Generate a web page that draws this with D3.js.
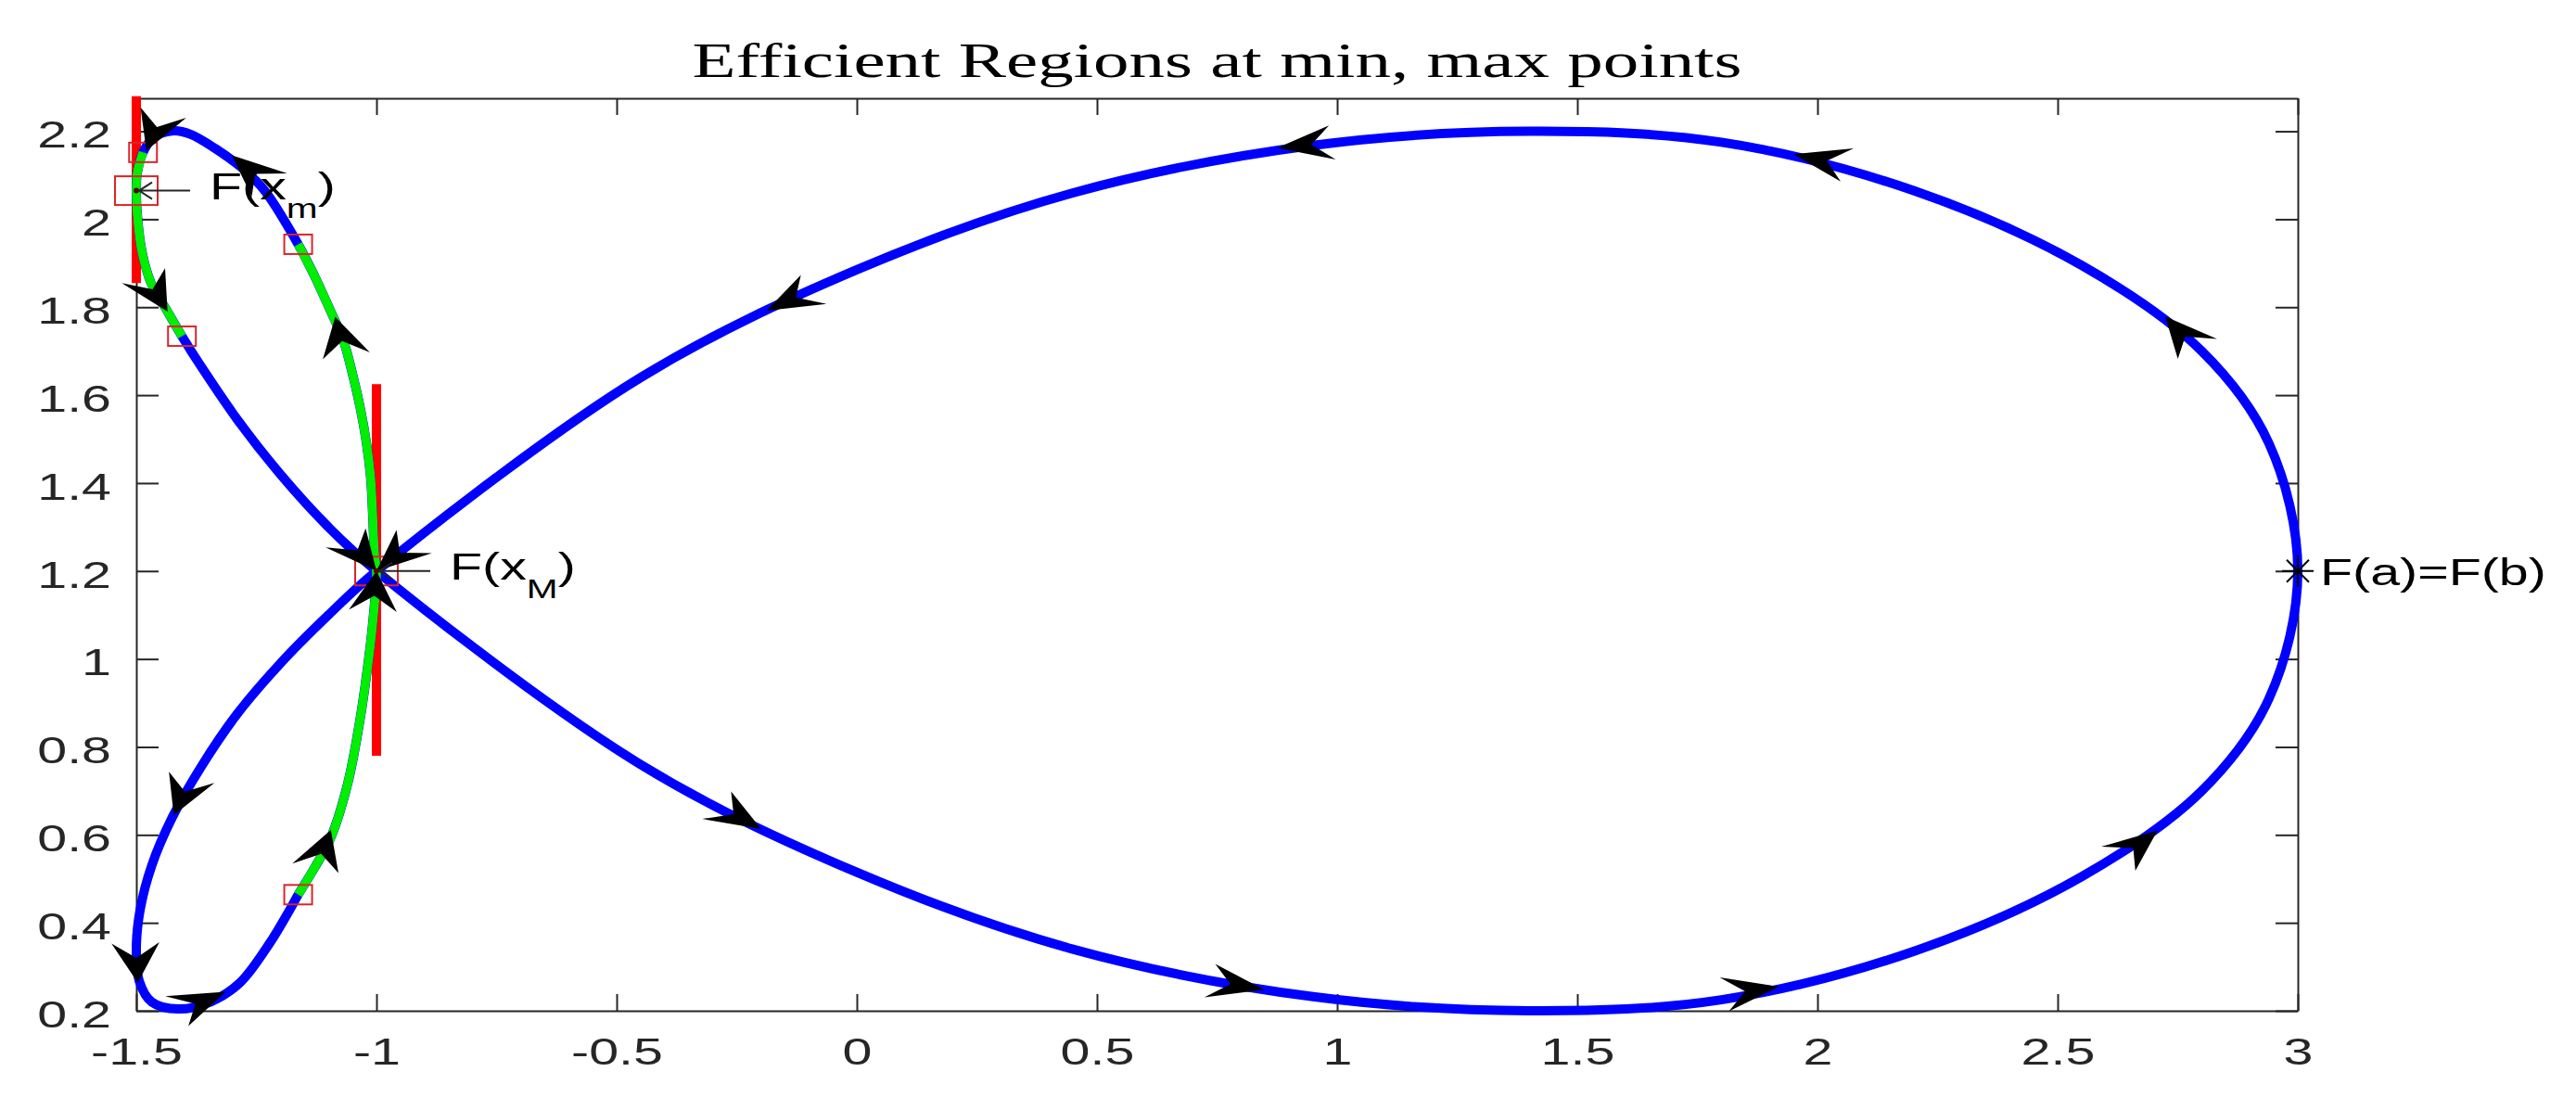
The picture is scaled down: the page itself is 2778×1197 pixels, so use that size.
<!DOCTYPE html>
<html>
<head>
<meta charset="utf-8">
<script src="https://cdn.jsdelivr.net/npm/d3@7"></script>
<style>
  html, body { margin: 0; padding: 0; background: #fff; }
</style>
</head>
<body>
<div id="chart"></div>
<script>
// Axis ticks
var xTicks = [-1.5, -1, -0.5, 0, 0.5, 1, 1.5, 2, 2.5, 3];
var xTickLabels = ["-1.5", "-1", "-0.5", "0", "0.5", "1", "1.5", "2", "2.5", "3"];
var yTicks = [0.2, 0.4, 0.6, 0.8, 1, 1.2, 1.4, 1.6, 1.8, 2, 2.2];
var yTickLabels = ["0.2", "0.4", "0.6", "0.8", "1", "1.2", "1.4", "1.6", "1.8", "2", "2.2"];

// Curve F(x), in drawing order (closed loop)
// big loop, upper half: F(a) -> F(x_M)
var bigTopX = [3.0, 2.94, 2.80, 2.55, 2.20, 1.80, 1.40, 0.95, 0.45, 0.00, -0.45, -1.0];
var bigTopY = [1.2, 1.490, 1.700, 1.895, 2.065, 2.175, 2.200, 2.168, 2.060, 1.885, 1.640, 1.2];
// lower small loop: F(x_M) -> down the outer side -> up the inner side -> F(x_M)
var lowLoopX = [-1.10, -1.20, -1.29, -1.365, -1.425, -1.468, -1.492, -1.500, -1.494, -1.468, -1.413, -1.344, -1.284, -1.224, -1.181, -1.163, -1.129, -1.095, -1.060, -1.034, -1.017, -1.008, -1.0];
var lowLoopY = [1.100, 0.990, 0.875, 0.755, 0.640, 0.530, 0.430, 0.340, 0.268, 0.220, 0.204, 0.221, 0.264, 0.351, 0.429, 0.464, 0.525, 0.594, 0.716, 0.864, 0.994, 1.080, 1.2];
// upper small loop: F(x_M) -> up the inner side -> over the top -> down the outer side -> F(x_M)
var upLoopX = [-1.004, -1.008, -1.012, -1.021, -1.034, -1.051, -1.069, -1.095, -1.129, -1.163, -1.232, -1.275, -1.336, -1.387, -1.422, -1.465, -1.486, -1.498, -1.500, -1.497, -1.488, -1.469, -1.435, -1.405, -1.365, -1.290, -1.200, -1.100, -1.0];
var upLoopY = [1.236, 1.331, 1.411, 1.492, 1.572, 1.653, 1.725, 1.790, 1.871, 1.943, 2.064, 2.112, 2.161, 2.193, 2.201, 2.185, 2.152, 2.105, 2.065, 1.999, 1.925, 1.854, 1.790, 1.734, 1.665, 1.545, 1.420, 1.300, 1.2];
// big loop, lower half: F(x_M) -> back to F(b)
var bigBotX = [-0.45, 0.00, 0.45, 0.95, 1.40, 1.80, 2.20, 2.55, 2.80, 2.94];
var bigBotY = [0.760, 0.515, 0.340, 0.232, 0.200, 0.225, 0.335, 0.505, 0.700, 0.910];

// green (efficient) pieces of the curve
var greenInnerX = [-1.163, -1.129, -1.095, -1.060, -1.034, -1.017, -1.008, -1.0, -1.004, -1.008, -1.012, -1.021, -1.034, -1.051, -1.069, -1.095, -1.129, -1.163];
var greenInnerY = [0.464, 0.525, 0.594, 0.716, 0.864, 0.994, 1.080, 1.2, 1.236, 1.331, 1.411, 1.492, 1.572, 1.653, 1.725, 1.790, 1.871, 1.943];
var greenOuterX = [-1.486, -1.498, -1.500, -1.497, -1.488, -1.469, -1.435, -1.405];
var greenOuterY = [2.152, 2.105, 2.065, 1.999, 1.925, 1.854, 1.790, 1.734];

// red vertical segments
var redX = [-1.5, -1.0];
var redYLow = [1.855, 0.78];
var redYHigh = [2.28, 1.625];

// square markers
var smallMarkX = [-1.486, -1.163, -1.405, -1.163];
var smallMarkY = [2.152, 1.943, 1.734, 0.464];
var pointMarkX = [-1.5, -1.0];
var pointMarkY = [2.065, 1.2];
var pointMarkName = ["m", "M"];

// flow arrows: tip and a point behind it
var arrowTipX = [2.724, 1.95, 0.875, -0.188, -1.0, -1.422, -1.497, -1.314, -1.095, -1.0, -1.086, -1.301, -1.479, -1.435, -1.0, -0.199, 0.848, 1.92, 2.708];
var arrowTipY = [1.779, 2.148, 2.162, 1.792, 1.2, 0.645, 0.264, 0.243, 0.611, 1.2, 1.778, 2.145, 2.156, 1.790, 1.2, 0.613, 0.248, 0.255, 0.610];
var arrowBackX = [2.85, 2.10, 1.02, -0.06, -0.90, -1.385, -1.502, -1.40, -1.125, -1.01, -1.063, -1.245, -1.448, -1.478, -1.085, -0.33, 0.70, 1.77, 2.60];
var arrowBackY = [1.640, 2.115, 2.178, 1.855, 1.285, 0.730, 0.360, 0.206, 0.530, 1.080, 1.690, 2.097, 2.232, 1.860, 1.300, 0.690, 0.275, 0.232, 0.525];

// end point F(a)=F(b)
var endX = [3.0];
var endY = [1.2];

var W = 2778, H = 1197;
var plotLeft = 147, plotRight = 2478, plotTop = 106, plotBottom = 1090;
var stretch = 1.4;           // the figure is stretched horizontally
var axisColor = "#262626";

var svg = d3.select("#chart").append("svg")
    .attr("width", W)
    .attr("height", H)
    .style("display", "block")
    .style("background", "#fff");

var xScale = d3.scaleLinear().domain([-1.5, 3]).range([plotLeft, plotRight]);
var yScale = d3.scaleLinear().domain([0.2, 2.275]).range([plotBottom, plotTop]);

// Axes (box with inward ticks on all sides)
var xAxisB = svg.append("g")
    .attr("transform", "translate(0," + plotBottom + ")")
    .call(d3.axisBottom(xScale).tickValues(xTicks)
        .tickFormat(function(d, i) { return xTickLabels[i]; })
        .tickSizeInner(-18).tickSizeOuter(0).tickPadding(29));
var xAxisT = svg.append("g")
    .attr("transform", "translate(0," + plotTop + ")")
    .call(d3.axisTop(xScale).tickValues(xTicks).tickFormat("")
        .tickSizeInner(-18).tickSizeOuter(0));
var yAxisL = svg.append("g")
    .attr("transform", "translate(" + plotLeft + ",0)")
    .call(d3.axisLeft(yScale).tickValues(yTicks)
        .tickFormat(function(d, i) { return yTickLabels[i]; })
        .tickSizeInner(-24).tickSizeOuter(0).tickPadding(19.3));
var yAxisR = svg.append("g")
    .attr("transform", "translate(" + plotRight + ",0)")
    .call(d3.axisRight(yScale).tickValues(yTicks).tickFormat("")
        .tickSizeInner(-24).tickSizeOuter(0));

[xAxisB, xAxisT, yAxisL, yAxisR].forEach(function(ax) {
    ax.select(".domain").attr("stroke", axisColor).attr("stroke-width", 2);
    ax.selectAll(".tick line").attr("stroke", axisColor).attr("stroke-width", 2);
    ax.selectAll(".tick text")
        .attr("fill", axisColor)
        .style("font-family", "'Liberation Sans', Arial, Helvetica, sans-serif")
        .style("font-size", "41px")
        .attr("transform", "scale(" + stretch + ",1)");
});
yAxisL.selectAll(".tick text").attr("dy", "0.42em");

// Title
svg.append("text")
    .attr("x", (plotLeft + plotRight) / 2)
    .attr("y", 83)
    .attr("text-anchor", "middle")
    .attr("textLength", 1132)
    .attr("lengthAdjust", "spacingAndGlyphs")
    .style("font-family", "'Liberation Serif', 'DejaVu Serif', serif")
    .style("font-size", "52px")
    .style("fill", "#000")
    .text("Efficient Regions at min, max points");

var openLine = d3.line()
    .x(function(d) { return xScale(d[0]); })
    .y(function(d) { return yScale(d[1]); })
    .curve(d3.curveCatmullRom.alpha(0.5));
var closedLine = d3.line()
    .x(function(d) { return xScale(d[0]); })
    .y(function(d) { return yScale(d[1]); })
    .curve(d3.curveCatmullRomClosed.alpha(0.5));

// red efficient-region segments
svg.append("g").selectAll("line")
    .data(redX)
    .enter().append("line")
    .attr("x1", function(d) { return xScale(d); })
    .attr("x2", function(d) { return xScale(d); })
    .attr("y1", function(d, i) { return yScale(redYLow[i]); })
    .attr("y2", function(d, i) { return yScale(redYHigh[i]); })
    .attr("stroke", "#ff0000")
    .attr("stroke-width", 10);

// blue curve
var curvePts = d3.zip(bigTopX, bigTopY)
    .concat(d3.zip(lowLoopX, lowLoopY))
    .concat(d3.zip(upLoopX, upLoopY))
    .concat(d3.zip(bigBotX, bigBotY));

svg.append("path")
    .datum(curvePts)
    .attr("fill", "none")
    .attr("stroke", "#0000ff")
    .attr("stroke-width", 10)
    .attr("d", closedLine);

// green pieces
[d3.zip(greenInnerX, greenInnerY), d3.zip(greenOuterX, greenOuterY)].forEach(function(pts) {
    svg.append("path")
        .datum(pts)
        .attr("fill", "none")
        .attr("stroke", "#00ee00")
        .attr("stroke-width", 9.5)
        .attr("d", openLine);
});

// square markers
var marks = svg.append("g");
smallMarkX.forEach(function(x, i) {
    marks.append("rect")
        .attr("x", xScale(x) - 15)
        .attr("y", yScale(smallMarkY[i]) - 10.5)
        .attr("width", 30)
        .attr("height", 21)
        .attr("fill", "none")
        .attr("stroke", "#d9262b")
        .attr("stroke-width", 2);
});
pointMarkX.forEach(function(x, i) {
    marks.append("rect")
        .attr("x", xScale(x) - 23)
        .attr("y", yScale(pointMarkY[i]) - 15.5)
        .attr("width", 46)
        .attr("height", 31)
        .attr("fill", "none")
        .attr("stroke", "#d9262b")
        .attr("stroke-width", 2);
});

// flow arrowheads (drawn unstretched, then stretched like the figure)
var arrows = svg.append("g");
var L = 43, HW = 18.5;
arrowTipX.forEach(function(x, i) {
    var tx = xScale(x), ty = yScale(arrowTipY[i]);
    var bx = xScale(arrowBackX[i]), by = yScale(arrowBackY[i]);
    var dx = (tx - bx) / stretch, dy = ty - by, len = Math.sqrt(dx * dx + dy * dy);
    var ux = dx / len, uy = dy / len, nx = -uy, ny = ux;
    var offs = [
        [0, 0],
        [-L * ux + HW * nx, -L * uy + HW * ny],
        [-0.62 * L * ux, -0.62 * L * uy],
        [-L * ux - HW * nx, -L * uy - HW * ny]
    ];
    arrows.append("path")
        .attr("d", "M" + offs.map(function(o) {
            return (tx + o[0] * stretch).toFixed(1) + "," + (ty + o[1]).toFixed(1);
        }).join("L") + "Z")
        .attr("fill", "#000");
});

// F(a)=F(b) asterisk
var ex = xScale(endX[0]), ey = yScale(endY[0]);
[[17, 0], [0, 17], [12, 12], [12, -12]].forEach(function(v) {
    svg.append("line")
        .attr("x1", ex - v[0]).attr("y1", ey - v[1])
        .attr("x2", ex + v[0]).attr("y2", ey + v[1])
        .attr("stroke", "#000").attr("stroke-width", 2);
});
var endLabel = svg.append("g")
    .attr("transform", "translate(" + (ex + 24) + "," + (ey + 15) + ") scale(" + stretch + ",1)");
endLabel.append("text")
    .style("font-family", "'Liberation Sans', Arial, Helvetica, sans-serif")
    .style("font-size", "41px")
    .attr("fill", "#000")
    .text("F(a)=F(b)");

// F(x_m), F(x_M) annotations
pointMarkX.forEach(function(x, i) {
    var px = xScale(x), py = yScale(pointMarkY[i]);
    svg.append("circle").attr("cx", px).attr("cy", py).attr("r", 3).attr("fill", "#5a0000");
    svg.append("path")
        .attr("d", "M" + (px + 58) + "," + py + "H" + (px + 3) +
              "M" + (px + 17) + "," + (py - 9) + "L" + (px + 3) + "," + py + "L" + (px + 17) + "," + (py + 9))
        .attr("fill", "none")
        .attr("stroke", axisColor)
        .attr("stroke-width", 2);
    var g = svg.append("g")
        .attr("transform", "translate(" + (px + 79) + "," + (py + 9) + ") scale(" + stretch + ",1)");
    var t = g.append("text")
        .style("font-family", "'Liberation Sans', Arial, Helvetica, sans-serif")
        .style("font-size", "41px")
        .attr("fill", "#000");
    t.append("tspan").text("F(x");
    t.append("tspan").attr("dy", 20).style("font-size", "29px").text(pointMarkName[i]);
    t.append("tspan").attr("dy", -20).text(")");
});
</script>
</body>
</html>
